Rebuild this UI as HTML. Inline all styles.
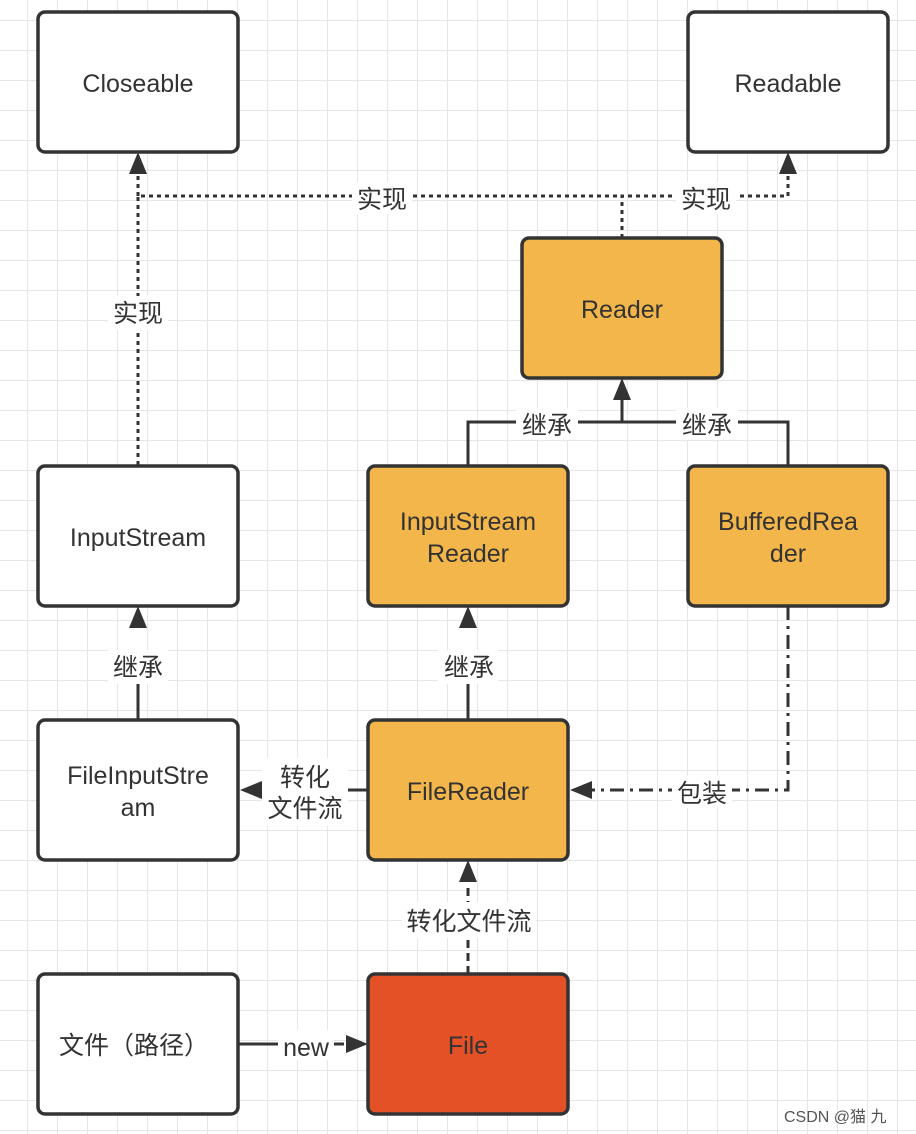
<!DOCTYPE html>
<html><head><meta charset="utf-8"><style>
html,body{margin:0;padding:0;background:#fff}
svg{display:block}
text{font-family:"Liberation Sans","Noto Sans CJK SC",sans-serif;fill:#333;font-size:25px}
.lb{font-size:25px}
</style></head><body>
<svg width="916" height="1134" viewBox="0 0 916 1134" xmlns="http://www.w3.org/2000/svg">
<defs>
<pattern id="g" x="27" y="20" width="30" height="30" patternUnits="userSpaceOnUse">
<path d="M0 0H30M0 0V30" stroke="#e6e6e6" stroke-width="2" fill="none"/>
</pattern>
</defs>
<rect width="916" height="1134" fill="url(#g)"/>
<g stroke="#333" stroke-width="3" fill="none">
<path d="M138 465V196H622M622 238V196H788V172" stroke-dasharray="4 4"/>
<path d="M138 196V172" stroke-dasharray="4 4"/>
<path d="M468 466V422H788V466"/>
<path d="M622 422V398"/>
<path d="M138 720V650"/>
<path d="M468 720V650"/>
<path d="M788 606V790H592" stroke-dasharray="14 6 3 6"/>
<path d="M368 790H262"/>
<path d="M468 974V884" stroke-dasharray="8 5"/>
<path d="M238 1044H344"/>
</g>
<g fill="#333">
<path d="M138 152l-9 22h18z"/>
<path d="M788 152l-9 22h18z"/>
<path d="M622 378l-9 22h18z"/>
<path d="M138 606l-9 22h18z"/>
<path d="M468 606l-9 22h18z"/>
<path d="M468 860l-9 22h18z"/>
<path d="M240 790l22 -9v18z"/>
<path d="M570 790l22 -9v18z"/>
<path d="M368 1044l-22 -9v18z"/>
</g>
<g fill="#fff">
<rect x="352" y="182" width="60" height="32"/>
<rect x="676" y="182" width="60" height="32"/>
<rect x="108" y="296" width="60" height="34"/>
<rect x="516" y="408" width="62" height="32"/>
<rect x="676" y="408" width="62" height="32"/>
<rect x="108" y="650" width="60" height="34"/>
<rect x="438" y="650" width="60" height="34"/>
<rect x="262" y="758" width="86" height="68"/>
<rect x="672" y="776" width="60" height="32"/>
<rect x="402" y="902" width="134" height="36"/>
<rect x="278" y="1030" width="56" height="30"/>
</g>
<g class="lb" text-anchor="middle">
<text x="382" y="208">实现</text>
<text x="706" y="208">实现</text>
<text x="138" y="322">实现</text>
<text x="547" y="434">继承</text>
<text x="707" y="434">继承</text>
<text x="138" y="676">继承</text>
<text x="469" y="676">继承</text>
<text x="305" y="786">转化</text>
<text x="305" y="817">文件流</text>
<text x="702" y="802">包装</text>
<text x="469" y="930">转化文件流</text>
<text x="306" y="1056">new</text>
</g>
<g stroke="#333" stroke-width="3.5">
<rect x="38" y="12" width="200" height="140" rx="7" fill="#fff"/>
<rect x="688" y="12" width="200" height="140" rx="7" fill="#fff"/>
<rect x="522" y="238" width="200" height="140" rx="7" fill="#F3B64B"/>
<rect x="38" y="466" width="200" height="140" rx="7" fill="#fff"/>
<rect x="368" y="466" width="200" height="140" rx="7" fill="#F3B64B"/>
<rect x="688" y="466" width="200" height="140" rx="7" fill="#F3B64B"/>
<rect x="38" y="720" width="200" height="140" rx="7" fill="#fff"/>
<rect x="368" y="720" width="200" height="140" rx="7" fill="#F3B64B"/>
<rect x="38" y="974" width="200" height="140" rx="7" fill="#fff"/>
<rect x="368" y="974" width="200" height="140" rx="7" fill="#E55126"/>
</g>
<g text-anchor="middle">
<text x="138" y="92">Closeable</text>
<text x="788" y="92">Readable</text>
<text x="622" y="318">Reader</text>
<text x="138" y="546">InputStream</text>
<text x="468" y="530">InputStream</text>
<text x="468" y="562">Reader</text>
<text x="788" y="530">BufferedRea</text>
<text x="788" y="562">der</text>
<text x="138" y="784">FileInputStre</text>
<text x="138" y="816">am</text>
<text x="468" y="800">FileReader</text>
<text x="134" y="1054">文件（路径）</text>
<text x="468" y="1054">File</text>
</g>
<text x="784" y="1122" style="font-size:16px;fill:#555">CSDN @猫 九</text>
</svg>
</body></html>
